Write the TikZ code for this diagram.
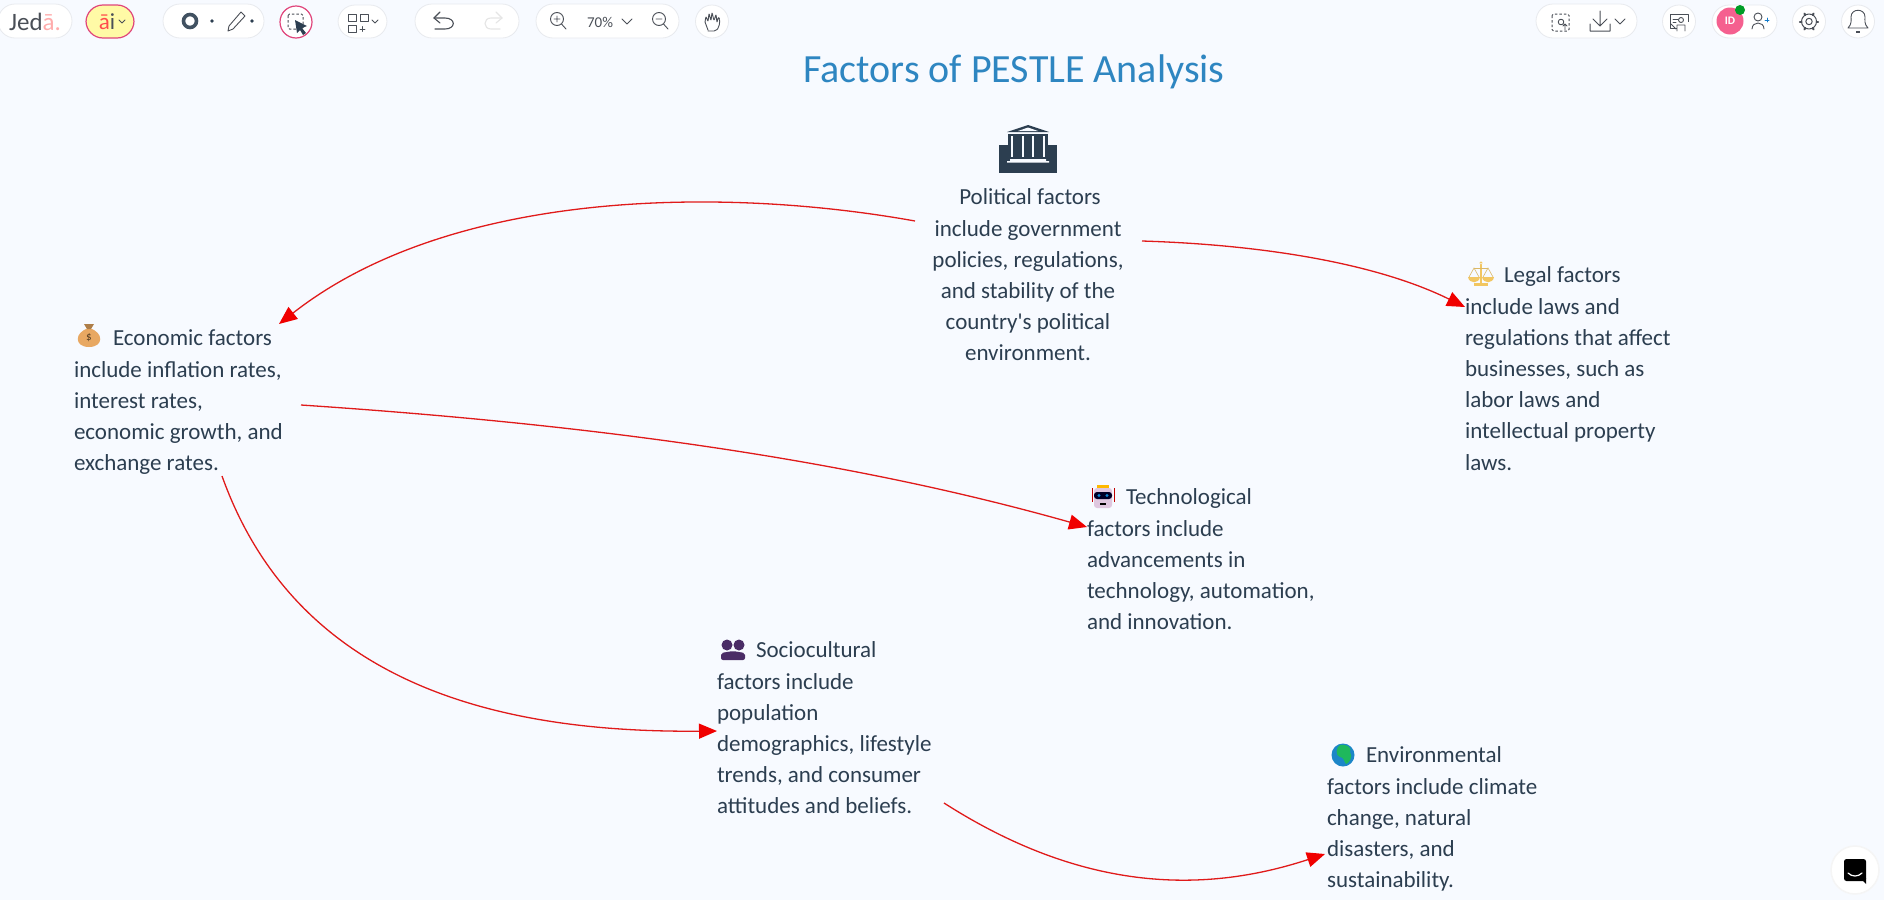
\documentclass[tikz,border=0pt]{standalone}
\usepackage{fontspec}
\setmainfont{Carlito}
\newfontfamily\straightq{Carlito}
\usetikzlibrary{arrows.meta}
\definecolor{bgc}{HTML}{F7FAFF}
\definecolor{ink}{HTML}{2C3E50}
\definecolor{titlec}{HTML}{2E86C1}
\definecolor{link}{HTML}{E01A1A}
\definecolor{tip}{HTML}{F00000}
\definecolor{pillb}{HTML}{E8EAEE}
\definecolor{pinkb}{HTML}{E0457B}
\definecolor{tool}{HTML}{4A4F57}
\definecolor{idc}{HTML}{F5608F}
\definecolor{bag}{HTML}{E8A862}
\definecolor{gold}{HTML}{F2C661}
\definecolor{pp}{HTML}{4A2C66}
\definecolor{ocean}{HTML}{1C86C8}
\definecolor{land}{HTML}{1FB85C}
\tikzset{
  x=1pt,y=-1pt,
  factor/.style={inner sep=0pt,outer sep=0pt,align=left,anchor=north west,text=ink,font=\fontsize{23}{31.2}\selectfont},
  factorc/.style={factor,align=center,anchor=north},
  conn/.style={draw=link,line width=1.3pt,-{Triangle[length=18pt,width=15pt,fill=tip,color=tip]}},
  pill/.style={fill=white,draw=pillb,line width=0.8pt,rounded corners=17pt},
  ticon/.style={draw=tool,line width=1.2pt,line cap=round,line join=round,fill=none},
  tlabel/.style={inner sep=0pt,text=tool},
}
\newcommand{\lead}{\hspace*{39pt}}
\begin{document}
\begin{tikzpicture}
\path[use as bounding box,fill=bgc] (0,0) rectangle (1884,900);

% ---- toolbar pills
\path[pill] (-2,4) rectangle (72,38);
\path[pill,fill=yellow!35!white,draw=pinkb,line width=1.2pt] (86,5) rectangle (134,38);
\path[pill] (163,4) rectangle (264,38);
\path[pill] (338,5) rectangle (387,38);
\path[pill] (415,4) rectangle (519,38);
\path[pill] (536,4) rectangle (679,38);
\path[pill] (1536,4) rectangle (1637,38);
\path[pill] (1712,5) rectangle (1777,38);
\path[fill=white,draw=pinkb,line width=1.2pt] (296,22) circle (16);
\foreach \cx in {712,1679,1809,1858}{\path[fill=white,draw=pillb,line width=0.8pt] (\cx,21.5) circle (16.5);}

% logo and ai
\node[tlabel,font=\fontsize{25}{25}\selectfont] (logo) at (35,22) {\textcolor{tool}{Jed}\textcolor{pink!90!red}{ā.}};
\node[tlabel,font=\fontsize{23}{23}\selectfont] (ailabel) at (107,21.5) {\textcolor{red!60!pink}{ā}\textcolor{tool}{i}};
\draw[ticon,line width=.8pt] (119,20) -- (122,23) -- (125,20);

% stroke + pencil
\draw[draw=ink!90,line width=3.6pt] (190,21) circle (6.5);
\fill[ink] (212,21) circle (1.8) (252,21) circle (1.8);
\draw[ticon,line width=.9pt] (228,31) -- (229,26) -- (241,12) -- (245,16) -- (233,29) -- cycle;

% selection tool
\draw[tool,line width=1pt,dash pattern=on 2.5pt off 2pt,rounded corners=1.5pt] (288,14) rectangle (303,29);
\fill[ink] (295,20) -- (307,26) -- (302,28) -- (306,33) -- (303,35) -- (300,30) -- (297,33) -- cycle;

% grid
\draw[ticon,line width=.9pt] (348,14) rectangle (356,21) (360,14) rectangle (368,21) (348,25) rectangle (356,32);
\draw[ticon,line width=.9pt] (360,29) -- (365,29) (362.5,26.5) -- (362.5,31.5);
\draw[ticon,line width=.9pt] (372,20) -- (375,23) -- (378,20);

% undo / redo
\draw[ticon,line width=1.1pt] (440,12) -- (434,18) -- (440,23);
\draw[ticon,line width=1.1pt] (434,18) -- (445,18) .. controls (456,18) and (456,29) .. (445,29) -- (435,29);
\draw[ticon,draw=gray!20,line width=1.1pt] (496,12) -- (502,18) -- (496,23);
\draw[ticon,draw=gray!20,line width=1.1pt] (502,18) -- (491,18) .. controls (483,18) and (483,29) .. (491,29) -- (500,29);

% zoom
\draw[ticon,line width=.9pt] (557,19) circle (6.5) (561.5,24) -- (566,29) (554,19) -- (560,19) (557,16) -- (557,22);
\node[tlabel,font=\fontsize{15}{15}\selectfont] (zoomval) at (600,22) {70\%};
\draw[ticon,line width=1pt] (622,19) -- (627,24) -- (632,19);
\draw[ticon,line width=.9pt] (659,19) circle (6.5) (663.5,24) -- (668,29) (656,19) -- (662,19);

% hand
\draw[ticon,line width=.9pt,rounded corners=2pt] (708,30) -- (705,22) (705,22) -- (706,16) -- (708,22) -- (709,13) -- (711,21) -- (712,12) -- (714,21) -- (716,14) -- (717,23) -- (718,17) -- (720,19) -- (719,27) -- (716,31) -- (708,31);

% right icons
\draw[tool,line width=1pt,dash pattern=on 2.5pt off 2pt,rounded corners=1.5pt] (1552,14) rectangle (1569,31);
\draw[ticon,line width=.9pt] (1561,22) circle (2.8) (1565,24) -- (1565,30) (1563,26) -- (1565,24) -- (1567,26);
\draw[ticon,line width=1pt] (1590,24) -- (1590,31) -- (1610,31) -- (1610,24) (1600,11) -- (1600,26) (1593,19) -- (1600,26) -- (1607,19);
\draw[ticon,line width=1pt] (1615,19) -- (1620,24) -- (1625,19);
\draw[ticon,line width=.9pt] (1670,14) rectangle (1688,28) (1673,19) -- (1678,19) (1673,22) -- (1676,22);
\fill[white] (1678,22) rectangle (1690,32);
\draw[ticon,line width=.9pt,fill=white] (1681,20) circle (2.5) (1677,31) -- (1677,25) -- (1685,25) -- (1685,31);
\draw[ticon,line width=.9pt] (1671,24) -- (1676,29);
\path[fill=idc] (1730,21) circle (13.5);
\node[inner sep=0pt,text=white,font=\fontsize{11.5}{12}\selectfont\bfseries] (idlabel) at (1730,21) {ID};
\path[fill=green!55!black!85!cyan] (1740,10) circle (5);
\draw[ticon,line width=.9pt] (1758,17) circle (4) (1752,29) .. controls (1752,21) and (1764,21) .. (1764,29);
\draw[ticon,draw=cyan!60!blue,line width=.9pt] (1765,20) -- (1769,20) (1767,18) -- (1767,22);
% gear
\draw[ticon,line width=1pt] (1809,21.5) circle (3.2);
\draw[ticon,line width=1pt] (1809,21.5) circle (7.5);
\foreach \a in {0,60,...,300}{\draw[ticon,line width=2pt] (1809,21.5) ++(\a:7.5) -- ++(\a:1.7);}
% bell
\draw[ticon,line width=.9pt] (1848,28) .. controls (1852,24) and (1851,20) .. (1851,17) .. controls (1851,8) and (1865,8) .. (1865,17) .. controls (1865,20) and (1864,24) .. (1868,28) -- cycle;
\fill[tool] (1856,31) rectangle (1860,33);

% ---- title
\node[inner sep=0pt,text=titlec,font=\fontsize{40}{42}\selectfont] (title) at (1014,72) {Factors of PESTLE Analysis};

% ---- building icon
\fill[ink] (999,145) rectangle (1057,173);
\fill[ink] (1008,133) rectangle (1048,158);
\fill[ink] (1028,125) -- (1049,132) -- (1007,132) -- cycle;
\fill[bgc] (1028,127.5) -- (1038,131) -- (1018,131) -- cycle;
\fill[bgc] (1007,133) rectangle (1049,134.2);
\foreach \cx in {1012,1023,1033,1044}{\fill[bgc] (\cx-.7,136) rectangle (\cx+.7,157);}
\fill[bgc] (1010,159) rectangle (1046,161) (1007,161) rectangle (1049,162.5);

% ---- factor text
\node[factorc] (political) at (1028,189) {\hspace*{4pt}Political factors\\include government\\policies, regulations,\\and stability of the\\country{\straightq '}s political\\environment.};
\node[factor] (economic) at (74,330) {\lead Economic factors\\include inflation rates,\\interest rates,\\economic growth, and\\exchange rates.};
\node[factor] (legal) at (1465,267) {\lead Legal factors\\include laws and\\regulations that affect\\businesses, such as\\labor laws and\\intellectual property\\laws.};
\node[factor] (tech) at (1087,489) {\lead Technological\\factors include\\advancements in\\technology, automation,\\and innovation.};
\node[factor] (socio) at (717,642) {\lead Sociocultural\\factors include\\population\\demographics, lifestyle\\trends, and consumer\\attitudes and beliefs.};
\node[factor] (env) at (1327,747) {\lead Environmental\\factors include climate\\change, natural\\disasters, and\\sustainability.};

% ---- emoji drawn as shapes
% money bag
\fill[bag] (89,328) .. controls (104,332) and (104,347) .. (89,347) .. controls (74,347) and (74,332) .. (89,328) -- cycle;
\fill[bag!75!black] (84,324) -- (94,324) -- (91,329) -- (87,329) -- cycle;
\node[inner sep=0pt,text=bag!35!black,font=\fontsize{11}{11}\selectfont] (bagsign) at (89,338) {\$};
% scales
\fill[gold] (1481,263) circle (1.6) (1480.2,263) rectangle (1481.8,283);
\fill[gold] (1474,283) rectangle (1488,286);
\draw[gold!80!gray,line width=1pt] (1474,268) -- (1488,268);
\fill[gold] (1468,277) -- (1480,277) .. controls (1479,284) and (1469,284) .. (1468,277) -- cycle;
\fill[gold] (1482,277) -- (1494,277) .. controls (1493,284) and (1483,284) .. (1482,277) -- cycle;
\draw[gold!80!gray,line width=.6pt] (1469,277) -- (1474,268) -- (1479,277) (1483,277) -- (1488,268) -- (1493,277);
% robot
\fill[orange!55!yellow] (1097,485) rectangle (1109,490);
\draw[red!75!black,line width=.9pt] (1092,488) -- (1092,502) (1114,488) -- (1114,502);
\fill[gray!25!violet!25!white,rounded corners=3pt] (1094,488) rectangle (1112,508);
\fill[black!85!blue,rounded corners=3pt] (1094,492) rectangle (1112,499);
\fill[cyan!70!blue] (1099,495.5) circle (1.7) (1107,495.5) circle (1.7);
\fill[black] (1100,503) rectangle (1106,505);
% people
\fill[pp] (727,645) circle (5.5) (739,645) circle (5.5);
\fill[pp,rounded corners=2pt] (721,660) -- (721,653) -- (733,651) -- (745,653) -- (745,660) -- cycle;
% globe
\fill[ocean] (1343,755) circle (11.5);
\fill[land] (1340,745) .. controls (1348,744) and (1352,748) .. (1350,752) .. controls (1354,757) and (1348,764) .. (1346,764) .. controls (1344,762) and (1344,757) .. (1340,757) .. controls (1335,756) and (1336,747) .. (1340,745) -- cycle;

% chat bubble
\path[fill=white,draw=gray!8,line width=1.5pt] (1855,870) circle (24);
\fill[black,rounded corners=2.5pt] (1844,859) rectangle (1866,881);
\fill[black] (1860,878) -- (1866,878) -- (1866,884) -- cycle;
\draw[white,line width=1.2pt,line cap=round] (1848,873) .. controls (1852,877) and (1858,877) .. (1862,873);

% ---- connector ends
\coordinate (polL) at (915,221);
\coordinate (polR) at (1142,241);
\coordinate (ecoT) at (279,324);
\coordinate (ecoR) at (301,405);
\coordinate (ecoB) at (222,476);
\coordinate (legalT) at (1465,307);
\coordinate (techT) at (1087,527);
\coordinate (socioT) at (717,731);
\coordinate (socioB) at (944,803);
\coordinate (envT) at (1325,854);

\draw[conn] (polL) .. controls (720,186) and (450,190) .. (ecoT);
\draw[conn] (polR) .. controls (1270,245) and (1380,265) .. (legalT);
\draw[conn] (ecoR) .. controls (600,425) and (850,460) .. (techT);
\draw[conn] (ecoB) .. controls (295,680) and (490,733) .. (socioT);
\draw[conn] (socioB) .. controls (1080,890) and (1200,895) .. (envT);
\end{tikzpicture}
\end{document}
